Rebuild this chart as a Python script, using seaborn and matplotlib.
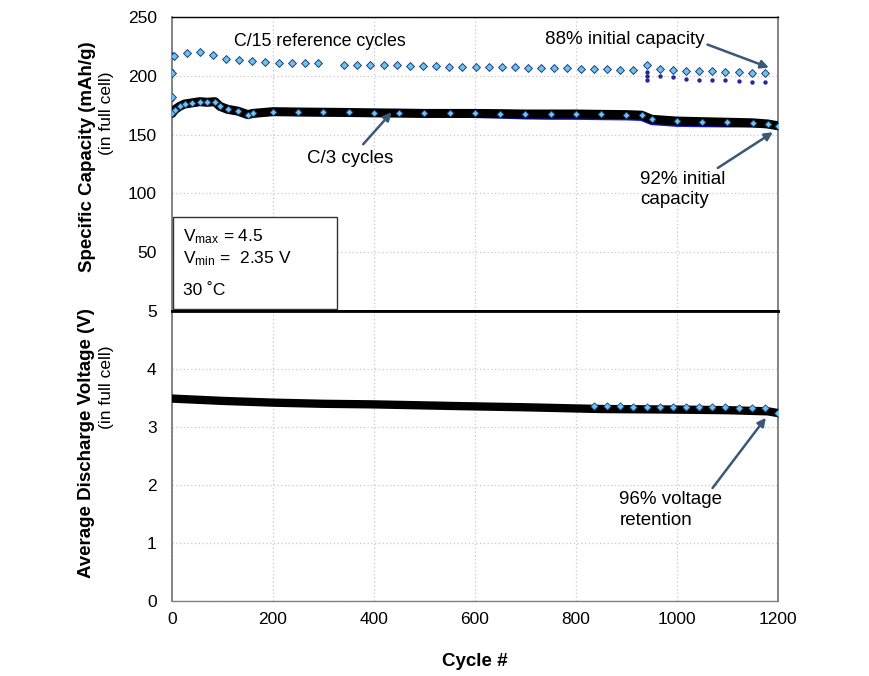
import matplotlib
matplotlib.use("Agg")
import matplotlib.pyplot as plt
import seaborn as sns
import pandas as pd
from matplotlib.patches import Rectangle

# ---------------- data ----------------
# C/15 reference cycles (light-blue diamonds)
ref_cycles = [4, 30, 55, 81, 107, 133, 159, 185, 211, 237, 263, 289, 341, 367, 393,
              419, 445, 471, 497, 523, 549, 575, 601, 627, 653, 679, 705, 731, 757,
              783, 809, 835, 861, 887, 913, 940, 966, 992, 1018, 1044, 1070, 1096,
              1122, 1148, 1174]
ref_capacity = [216.8, 219.4, 220.0, 217.7, 214.3, 213.4, 212.6, 212.0, 211.0, 210.9,
                210.5, 210.9, 209.5, 209.0, 209.0, 209.0, 209.0, 208.5, 208.3, 208.0,
                207.5, 207.5, 207.5, 207.5, 207.5, 207.3, 207.0, 207.0, 206.8, 206.5,
                206.2, 206.0, 205.6, 205.3, 205.0, 209.0, 206.0, 205.0, 204.0, 204.0,
                203.8, 203.5, 203.2, 202.8, 202.5]
# extra formation points at cycle 0
form_cycles = [0, 0]
form_capacity = [202.0, 182.0]
# dark-blue companion points of the reference cycles
dark_cycles = [0, 0, 0, 940, 940, 940, 966, 992, 1018, 1044, 1070, 1096, 1122, 1148, 1174]
dark_capacity = [218.5, 204.0, 180.0, 203.0, 200.0, 196.4, 199.8, 199.0, 197.5, 196.4,
                 196.4, 196.4, 195.5, 194.7, 194.7]

# C/3 cycles (dense black band)
c3_cycles = [0, 5, 15, 25, 40, 55, 70, 85, 95, 110, 130, 150, 160, 200, 250, 300, 350,
             400, 450, 500, 550, 600, 650, 700, 750, 800, 850, 900, 930, 950, 1000,
             1050, 1100, 1150, 1180, 1200]
c3_capacity = [168.0, 171.0, 174.0, 176.0, 177.0, 178.0, 177.5, 178.0, 174.0, 171.5,
               170.0, 167.0, 168.0, 169.5, 169.2, 169.0, 168.8, 168.5, 168.3, 168.0,
               168.0, 168.0, 167.8, 167.5, 167.5, 167.5, 167.2, 167.0, 166.5, 163.0,
               161.5, 161.0, 160.5, 160.0, 159.0, 157.5]
c3_capacity_blue = [167.5, 170.5, 173.5, 175.5, 176.5, 177.5, 177.0, 177.5, 173.5, 171.0,
                    169.5, 166.5, 167.5, 169.0, 168.7, 168.5, 168.3, 168.0, 167.8, 167.5,
                    167.3, 167.0, 166.5, 165.8, 165.5, 165.5, 165.2, 165.0, 164.5, 161.0,
                    159.5, 159.2, 159.0, 159.0, 158.5, 157.0]

# Average discharge voltage
v_cycles = [0, 50, 100, 200, 300, 400, 570, 700, 850, 1000, 1100, 1180, 1200]
v_volt = [3.49, 3.47, 3.45, 3.42, 3.40, 3.39, 3.36, 3.34, 3.31, 3.30, 3.29, 3.27, 3.24]
vref_cycles = [835, 861, 887, 913, 940, 966, 992, 1018, 1044, 1070, 1096, 1122, 1148, 1174]
vref_volt = [3.36, 3.36, 3.36, 3.35, 3.35, 3.35, 3.35, 3.34, 3.34, 3.34, 3.34, 3.33, 3.33, 3.33]

x_ticks = [0, 200, 400, 600, 800, 1000, 1200]
cap_ticks = [50, 100, 150, 200, 250]
volt_ticks = [0, 1, 2, 3, 4, 5]

# ---------------- style ----------------
sns.set_theme(style="white")
plt.rcParams['font.family'] = ['Liberation Sans', 'DejaVu Sans']
plt.rcParams['mathtext.fontset'] = 'custom'
plt.rcParams['mathtext.rm'] = 'Liberation Sans'
plt.rcParams['mathtext.it'] = 'Liberation Sans'
plt.rcParams['text.color'] = 'black'
plt.rcParams['axes.labelcolor'] = 'black'
plt.rcParams['xtick.color'] = 'black'
plt.rcParams['ytick.color'] = 'black'

LIGHT = '#6ec3ee'
EDGE = '#1d3f7a'
DARK = '#25289a'
ARROW = '#3b5878'

fig = plt.figure(figsize=(8.7, 6.76), dpi=100)
W, H = 870, 676
left, right = 172 / W, 778 / W
ax1 = fig.add_axes([left, 1 - 311 / H, right - left, (311 - 17) / H])
ax2 = fig.add_axes([left, 1 - 601 / H, right - left, (601 - 311) / H])

df_ref = pd.DataFrame({'cycle': ref_cycles, 'cap': ref_capacity})
df_form = pd.DataFrame({'cycle': form_cycles, 'cap': form_capacity})
df_dark = pd.DataFrame({'cycle': dark_cycles, 'cap': dark_capacity})
df_c3 = pd.DataFrame({'cycle': c3_cycles, 'cap': c3_capacity, 'blue': c3_capacity_blue})
df_v = pd.DataFrame({'cycle': v_cycles, 'v': v_volt})
df_vr = pd.DataFrame({'cycle': vref_cycles, 'v': vref_volt})

# ---- top panel ----
sns.lineplot(data=df_c3, x='cycle', y='blue', ax=ax1, color='#1414e0', lw=5, sort=False,
             estimator=None, zorder=2)
sns.lineplot(data=df_c3, x='cycle', y='cap', ax=ax1, color='black', lw=6.5, sort=False,
             estimator=None, zorder=3)
sns.scatterplot(data=df_c3, x='cycle', y='cap', ax=ax1, marker='D', s=12, color=LIGHT,
                edgecolor=EDGE, linewidth=0.6, zorder=4)
sns.scatterplot(data=df_dark, x='cycle', y='cap', ax=ax1, marker='o', s=10, color=DARK,
                edgecolor=DARK, linewidth=0, zorder=4)
sns.scatterplot(data=df_ref, x='cycle', y='cap', ax=ax1, marker='D', s=16, color=LIGHT,
                edgecolor=EDGE, linewidth=0.7, zorder=5)
sns.scatterplot(data=df_form, x='cycle', y='cap', ax=ax1, marker='D', s=16, color=LIGHT,
                edgecolor=EDGE, linewidth=0.7, zorder=5)

ax1.set_xlim(0, 1200)
ax1.set_ylim(0, 250)
ax1.set_xticks(x_ticks)
ax1.set_xticklabels([])
ax1.set_yticks(cap_ticks)
ax1.set_yticklabels([str(t) for t in cap_ticks], fontsize=12.5)
ax1.set_xlabel('')
ax1.set_ylabel('')
ax1.grid(True, color='#c8c8c8', linestyle=(0, (1, 2)), lw=0.9)
ax1.set_axisbelow(True)

# ---- bottom panel ----
sns.lineplot(data=df_v, x='cycle', y='v', ax=ax2, color='black', lw=6, sort=False,
             estimator=None, zorder=3)
sns.scatterplot(data=df_vr, x='cycle', y='v', ax=ax2, marker='D', s=14, color=LIGHT,
                edgecolor=EDGE, linewidth=0.6, zorder=4)
sns.scatterplot(x=[1200], y=[3.24], ax=ax2, marker='D', s=16, color=LIGHT,
                edgecolor=EDGE, linewidth=0.6, zorder=5)
ax2.set_xlim(0, 1200)
ax2.set_ylim(0, 5)
ax2.set_xticks(x_ticks)
ax2.set_xticklabels([str(t) for t in x_ticks], fontsize=12.5)
ax2.set_yticks(volt_ticks)
ax2.set_yticklabels([str(t) for t in volt_ticks], fontsize=12.5)
ax2.set_xlabel('')
ax2.set_ylabel('')
ax2.grid(True, color='#c8c8c8', linestyle=(0, (1, 2)), lw=0.9)
ax2.set_axisbelow(True)

for ax in (ax1, ax2):
    for s in ('left', 'right'):
        ax.spines[s].set_color('#707070')
        ax.spines[s].set_linewidth(1.2)
    ax.tick_params(axis='both', length=0, pad=8, colors='black')
ax1.spines['top'].set_color('black')
ax1.spines['top'].set_linewidth(1.0)
ax1.spines['bottom'].set_color('black')
ax1.spines['bottom'].set_linewidth(2.0)
ax2.spines['top'].set_color('black')
ax2.spines['top'].set_linewidth(2.0)
ax2.spines['bottom'].set_color('#808080')
ax2.spines['bottom'].set_linewidth(1.0)
ax1.tick_params(axis='y', pad=11)
ax2.tick_params(axis='y', pad=11)

# ---- annotations ----
ax1.text(293, 229, 'C/15 reference cycles', fontsize=12.8, ha='center', va='center')
ax1.annotate('88% initial capacity', xy=(1182, 207), xytext=(896, 230.5),
             fontsize=13.5, ha='center', va='center',
             arrowprops=dict(arrowstyle='-|>', color=ARROW, lw=1.8, mutation_scale=12,
                             shrinkA=0, shrinkB=0, relpos=(1.0, 0.3)))
ax1.annotate('C/3 cycles', xy=(435, 169), xytext=(352, 130),
             fontsize=13.5, ha='center', va='center',
             arrowprops=dict(arrowstyle='-|>', color=ARROW, lw=1.8, mutation_scale=12,
                             shrinkA=2, shrinkB=0, relpos=(0.6, 1.0)))
ax1.annotate('92% initial\ncapacity', xy=(1190, 152), xytext=(927, 103),
             fontsize=13.5, ha='left', va='center', linespacing=1.25,
             arrowprops=dict(arrowstyle='-|>', color=ARROW, lw=1.8, mutation_scale=12,
                             shrinkA=0, shrinkB=0, relpos=(0.85, 1.0)))
ax2.annotate('96% voltage\nretention', xy=(1176, 3.16), xytext=(886, 1.57),
             fontsize=13.5, ha='left', va='center', linespacing=1.25,
             arrowprops=dict(arrowstyle='-|>', color=ARROW, lw=1.8, mutation_scale=12,
                             shrinkA=0, shrinkB=0, relpos=(0.88, 1.0)))

# condition box
bx0, bx1 = 0 / (778 - 172), (336 - 172) / (778 - 172)
by0, by1 = (311 - 309) / 294, (311 - 217) / 294
ax1.add_patch(Rectangle((bx0 + 0.002, by0), bx1 - bx0, by1 - by0, transform=ax1.transAxes,
                        facecolor='white', edgecolor='#333333', lw=1.0, zorder=6))
tx = (183 - 172) / (778 - 172)
ax1.text(tx, (311 - 237) / 294, r'V$_{\mathrm{max}}$ = 4.5', transform=ax1.transAxes,
         fontsize=12.5, va='center', ha='left', zorder=7)
ax1.text(tx, (311 - 259) / 294, r'V$_{\mathrm{min}}$ =  2.35 V', transform=ax1.transAxes,
         fontsize=12.5, va='center', ha='left', zorder=7)
ax1.text(tx, (311 - 290) / 294, '30 ˚C', transform=ax1.transAxes,
         fontsize=12.5, va='center', ha='left', zorder=7)

# axis labels
fig.text(87 / W, 1 - 157 / H, 'Specific Capacity (mAh/g)', rotation=90, fontsize=13.5,
         fontweight='bold', ha='center', va='center')
fig.text(107 / W, 1 - 113 / H, '(in full cell)', rotation=90, fontsize=12.5,
         ha='center', va='center')
fig.text(87 / W, 1 - 443 / H, 'Average Discharge Voltage (V)', rotation=90, fontsize=13.5,
         fontweight='bold', ha='center', va='center')
fig.text(107 / W, 1 - 387 / H, '(in full cell)', rotation=90, fontsize=12.5,
         ha='center', va='center')
fig.text(475 / W, 1 - 662 / H, 'Cycle #', fontsize=13.5, fontweight='bold',
         ha='center', va='center')

fig.savefig('out.png', dpi=100)
